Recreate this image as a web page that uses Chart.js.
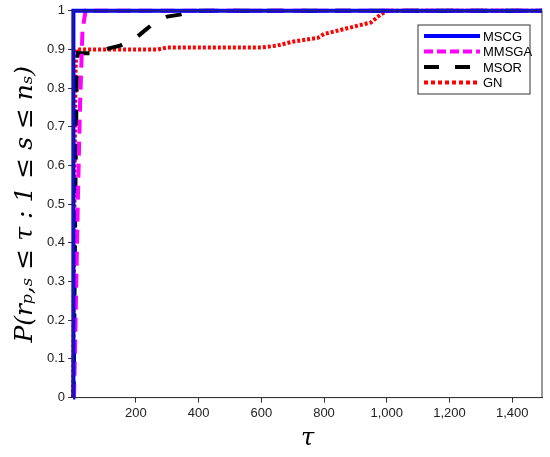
<!DOCTYPE html><html><head><script src="https://cdn.jsdelivr.net/npm/chart.js"></script>
<style>body{margin:0;background:#fff}#w{width:550px;height:457px}</style></head><body><div id="w"><canvas id="c"></canvas></div>
<script>
const mscgX=[0,1,1495], mscgY=[0,1,1];
const mmsgaX=[3,8,15,22,30,40,1495], mmsgaY=[0,0.2,0.5,0.75,0.95,1,1];
const msorX=[2,5,8,12,15,60,100,150,200,230,260,300,340,380,1495], msorY=[0,0.3,0.6,0.85,0.89,0.89,0.9,0.91,0.93,0.95,0.97,0.985,0.99,1,1];
const gnX=[0,2,4,6,8,10,100,270,300,600,650,700,780,800,850,900,950,980,1000,1495], gnY=[0,0.2,0.45,0.7,0.85,0.9,0.9,0.9,0.905,0.905,0.91,0.92,0.93,0.94,0.95,0.96,0.97,0.99,1,1];
const xTicks=[200,400,600,800,1000,1200,1400];
const names=['MSCG','MMSGA','MSOR','GN'];
const colors=['#0000ff','#ff00ff','#000000','#ff0000'];
const dashes=[[],[14,8],[16,18],[3,2]];
const xs=[mscgX,mmsgaX,msorX,gnX], ys=[mscgY,mmsgaY,msorY,gnY];
const ds=names.map((n,i)=>({label:n,data:xs[i].map((x,j)=>({x,y:ys[i][j]})),showLine:true,borderColor:colors[i],borderWidth:4,borderDash:dashes[i],pointRadius:0,order:i,clip:false}));
const legendPlug={id:'lg',afterDraw(ch){const c=ch.ctx,a=ch.chartArea;c.save();
 const x0=418,y0=25,w=112,h=69;c.fillStyle='#fff';c.fillRect(x0,y0,w,h);c.strokeStyle='#333';c.lineWidth=1;c.strokeRect(x0,y0,w,h);
 c.font='13px Arial, Liberation Sans';c.textBaseline='middle';
 names.forEach((n,i)=>{const y=y0+11+i*15.5;c.strokeStyle=colors[i];c.lineWidth=4;c.setLineDash(i==1?[9,4]:i==2?[15,16]:i==3?[4,3]:[]);c.beginPath();c.moveTo(x0+6,y);c.lineTo(x0+62,y);c.stroke();c.setLineDash([]);c.fillStyle='#000';c.fillText(n,x0+65,y+1);});
 c.strokeStyle='#333';c.lineWidth=1;c.strokeRect(a.left,a.top,a.right-a.left,a.bottom-a.top);c.restore();}};
new Chart(document.getElementById('c'),{type:'scatter',data:{datasets:ds},plugins:[legendPlug],
options:{responsive:true,maintainAspectRatio:false,animation:false,layout:{padding:{top:6,right:8,left:6}},
plugins:{legend:{display:false},tooltip:{enabled:false}},
scales:{x:{type:'linear',min:0,max:1495,afterBuildTicks:s=>{s.ticks=xTicks.map(v=>({value:v}));},ticks:{color:'#222',font:{size:13,family:'Arial'},maxRotation:0},grid:{drawOnChartArea:false,color:'#333',tickLength:5},border:{color:'#333'},
 title:{display:true,text:'τ',font:{size:24,style:'italic',family:'DejaVu Serif'},color:'#000',padding:{top:0}}},
y:{min:0,max:1,ticks:{stepSize:0.1,color:'#222',font:{size:13,family:'Arial'},callback:v=>Math.round(v*10)/10},grid:{drawOnChartArea:false,color:'#333',tickLength:5},border:{color:'#333'},
 title:{display:true,text:'P(rₚ,ₛ ≤ τ : 1 ≤ s ≤ nₛ)',font:{size:25,style:'italic',family:'DejaVu Serif'},color:'#000',padding:{bottom:4}}}}}});
</script></body></html>
